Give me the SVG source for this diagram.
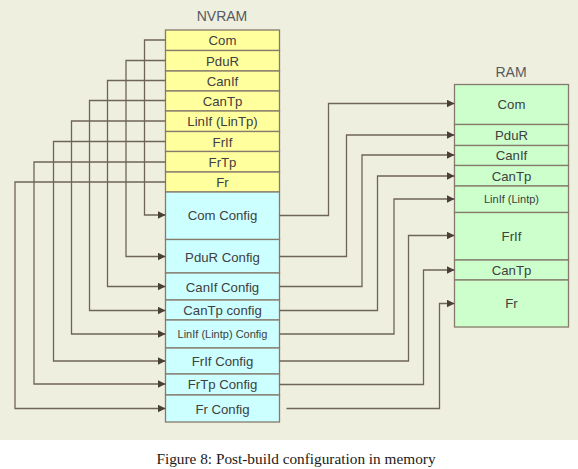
<svg xmlns="http://www.w3.org/2000/svg" width="578" height="469" viewBox="0 0 578 469">
<defs>
<style>
.bx{stroke:#857a6c;stroke-width:1.3}
.y{fill:#ffff9e}
.c{fill:#ccffff}
.g{fill:#ccffcc}
.t{font-family:"Liberation Sans",Arial,sans-serif;font-size:13.2px;fill:#404040;text-anchor:middle}
.s{font-size:11px}
.h{font-family:"Liberation Sans",Arial,sans-serif;font-size:14px;fill:#555a60;text-anchor:middle}
.ln{fill:none;stroke:#6e6458;stroke-width:1.3}
</style>
<marker id="a" viewBox="0 0 8 8" refX="8" refY="4" markerWidth="8" markerHeight="8" markerUnits="userSpaceOnUse" orient="auto">
<path d="M0,0 L8,4 L0,8 z" fill="#4a3e38"/>
</marker>
</defs>
<rect x="0" y="0" width="578" height="440" fill="#efefdf"/>
<rect x="0" y="440" width="578" height="29" fill="#ffffff"/>
<text x="222" y="21" class="h">NVRAM</text>
<text x="511" y="77" class="h">RAM</text>
<g id="nvram">
<g id="nv-com"><rect class="bx y" x="165.5" y="30" width="114" height="20.5"/><text class="t" x="222.5" y="45">Com</text></g>
<g id="nv-pdur"><rect class="bx y" x="165.5" y="50.5" width="114" height="20.5"/><text class="t" x="222.5" y="65.5">PduR</text></g>
<g id="nv-canif"><rect class="bx y" x="165.5" y="71" width="114" height="20"/><text class="t" x="222.5" y="85.5">CanIf</text></g>
<g id="nv-cantp"><rect class="bx y" x="165.5" y="91" width="114" height="20"/><text class="t" x="222.5" y="105.5">CanTp</text></g>
<g id="nv-linif"><rect class="bx y" x="165.5" y="111" width="114" height="20.5"/><text class="t" x="222.5" y="126">LinIf (LinTp)</text></g>
<g id="nv-frif"><rect class="bx y" x="165.5" y="131.5" width="114" height="20"/><text class="t" x="222.5" y="146.5">FrIf</text></g>
<g id="nv-frtp"><rect class="bx y" x="165.5" y="151.5" width="114" height="20.5"/><text class="t" x="222.5" y="166.5">FrTp</text></g>
<g id="nv-fr"><rect class="bx y" x="165.5" y="172" width="114" height="20"/><text class="t" x="222.5" y="186.5">Fr</text></g>
<g id="nv-comcfg"><rect class="bx c" x="165.5" y="192" width="114" height="47.5"/><text class="t" x="222.5" y="220">Com Config</text></g>
<g id="nv-pdurcfg"><rect class="bx c" x="165.5" y="239.5" width="114" height="33.5"/><text class="t" x="222.5" y="261.5">PduR Config</text></g>
<g id="nv-canifcfg"><rect class="bx c" x="165.5" y="273" width="114" height="27"/><text class="t" x="222.5" y="291.5">CanIf Config</text></g>
<g id="nv-cantpcfg"><rect class="bx c" x="165.5" y="300" width="114" height="20"/><text class="t" x="222.5" y="315">CanTp config</text></g>
<g id="nv-linifcfg"><rect class="bx c" x="165.5" y="320" width="114" height="28"/><text class="t s" x="222.5" y="338">LinIf (Lintp) Config</text></g>
<g id="nv-frifcfg"><rect class="bx c" x="165.5" y="348" width="114" height="26"/><text class="t" x="222.5" y="366">FrIf Config</text></g>
<g id="nv-frtpcfg"><rect class="bx c" x="165.5" y="374" width="114" height="21"/><text class="t" x="222.5" y="389">FrTp Config</text></g>
<g id="nv-frcfg"><rect class="bx c" x="165.5" y="395" width="114" height="27"/><text class="t" x="222.5" y="413.5">Fr Config</text></g>
</g>
<g id="ram">
<g id="r-com"><rect class="bx g" x="454.5" y="84.5" width="114" height="40"/><text class="t" x="511.5" y="109">Com</text></g>
<g id="r-pdur"><rect class="bx g" x="454.5" y="124.5" width="114" height="21"/><text class="t" x="511.5" y="139.5">PduR</text></g>
<g id="r-canif"><rect class="bx g" x="454.5" y="145.5" width="114" height="20"/><text class="t" x="511.5" y="160">CanIf</text></g>
<g id="r-cantp"><rect class="bx g" x="454.5" y="165.5" width="114" height="20.5"/><text class="t" x="511.5" y="180.5">CanTp</text></g>
<g id="r-linif"><rect class="bx g" x="454.5" y="186" width="114" height="26.5"/><text class="t s" x="511.5" y="203">LinIf (Lintp)</text></g>
<g id="r-frif"><rect class="bx g" x="454.5" y="212.5" width="114" height="47.5"/><text class="t" x="511.5" y="240.5">FrIf</text></g>
<g id="r-cantp2"><rect class="bx g" x="454.5" y="260" width="114" height="20"/><text class="t" x="511.5" y="274.5">CanTp</text></g>
<g id="r-fr"><rect class="bx g" x="454.5" y="280" width="114" height="47"/><text class="t" x="511.5" y="308">Fr</text></g>
</g>
<g id="connectors">
<path class="ln" marker-end="url(#a)" d="M165.5,40 H144.5 V215 H165.5"/>
<path class="ln" marker-end="url(#a)" d="M165.5,60.5 H126 V256.5 H165.5"/>
<path class="ln" marker-end="url(#a)" d="M165.5,80.5 H107.5 V286.5 H165.5"/>
<path class="ln" marker-end="url(#a)" d="M165.5,100.5 H89.5 V310.5 H165.5"/>
<path class="ln" marker-end="url(#a)" d="M165.5,121 H71.5 V334 H165.5"/>
<path class="ln" marker-end="url(#a)" d="M165.5,141.5 H53.5 V361 H165.5"/>
<path class="ln" marker-end="url(#a)" d="M165.5,162 H34 V384 H165.5"/>
<path class="ln" marker-end="url(#a)" d="M165.5,182 H15 V408.5 H165.5"/>
<path class="ln" marker-end="url(#a)" d="M279.5,215.5 H328.5 V103.5 H454.5"/>
<path class="ln" marker-end="url(#a)" d="M279.5,256.5 H346.5 V135 H454.5"/>
<path class="ln" marker-end="url(#a)" d="M279.5,286.5 H362 V155 H454.5"/>
<path class="ln" marker-end="url(#a)" d="M279.5,310.5 H377.5 V176 H454.5"/>
<path class="ln" marker-end="url(#a)" d="M279.5,334 H394 V199 H454.5"/>
<path class="ln" marker-end="url(#a)" d="M279.5,361 H408.5 V235.5 H454.5"/>
<path class="ln" marker-end="url(#a)" d="M279.5,384.5 H423.5 V270 H454.5"/>
<path class="ln" marker-end="url(#a)" d="M286.5,408.5 H439.5 V303.5 H454.5"/>
</g>
<text x="296" y="464" font-family="Liberation Serif,'Times New Roman',serif" font-size="15.3" fill="#1a1a1a" text-anchor="middle">Figure 8: Post-build configuration in memory</text>
</svg>
